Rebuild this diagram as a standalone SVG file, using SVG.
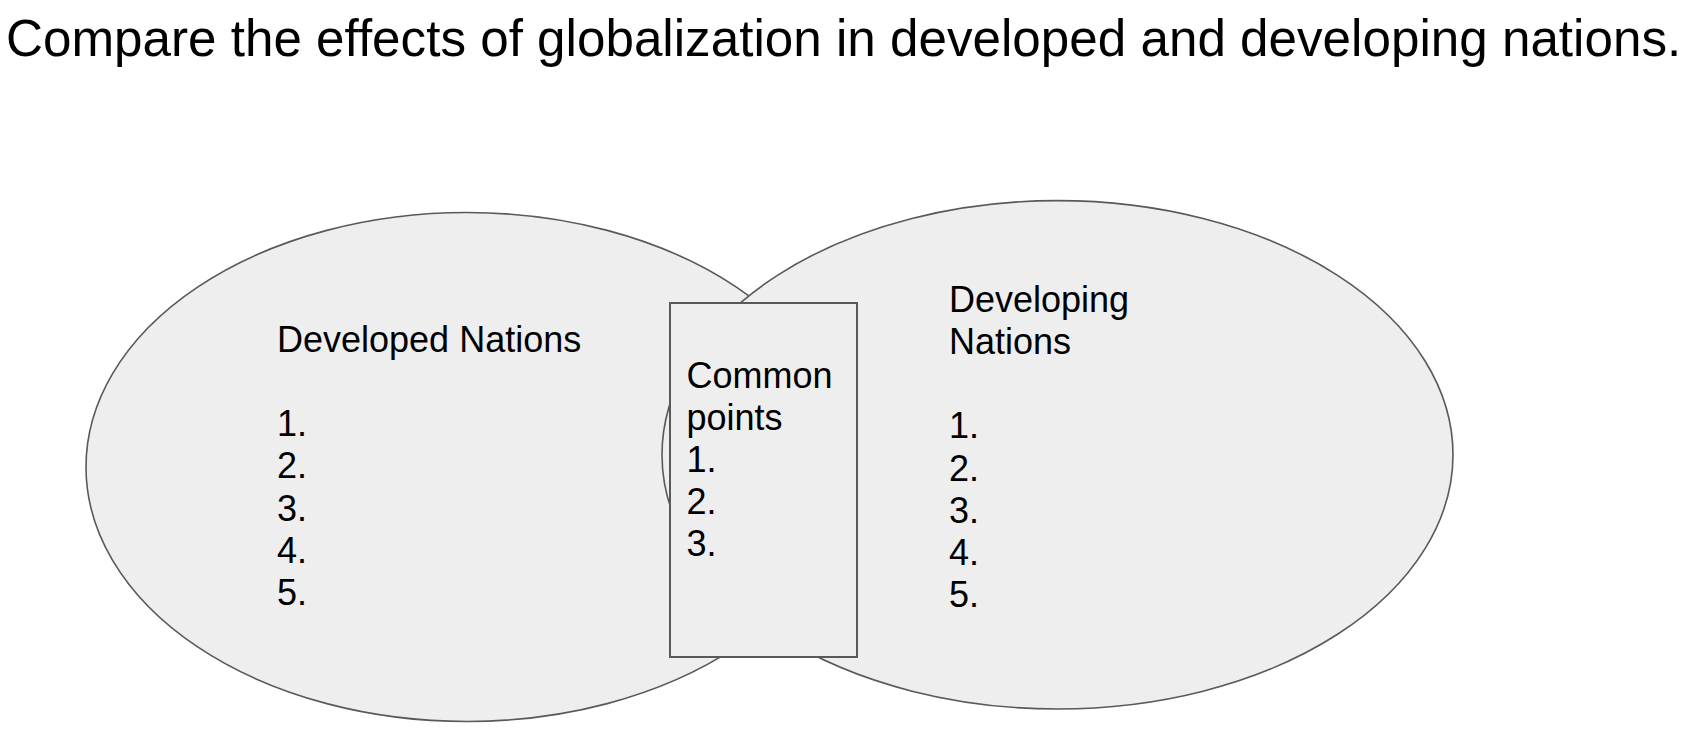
<svg xmlns="http://www.w3.org/2000/svg" width="1693" height="735" viewBox="0 0 1693 735">
  <style>
    .shape { fill: #eeeeee; stroke: #595959; }
    .ell { stroke-width: 1.6; }
    .box { stroke-width: 2; }
    text { font-family: "Liberation Sans", Arial, sans-serif; fill: #000000; }
    .lbl { font-size: 36px; }
    .title { font-size: 51.2px; }
  </style>
  <rect width="1693" height="735" fill="#ffffff"/>
  <g id="title">
    <text class="title" x="6" y="56">Compare the effects of globalization in developed and developing nations.</text>
  </g>
  <g id="developed">
    <ellipse class="shape ell" cx="467" cy="467" rx="381" ry="254.5"/>
    <text class="lbl" x="277" y="352">Developed Nations</text>
    <text class="lbl" x="277" y="436">1.</text>
    <text class="lbl" x="277" y="478.3">2.</text>
    <text class="lbl" x="277" y="520.5">3.</text>
    <text class="lbl" x="277" y="562.7">4.</text>
    <text class="lbl" x="277" y="605">5.</text>
  </g>
  <g id="developing">
    <ellipse class="shape ell" cx="1057.5" cy="454.8" rx="395.5" ry="254.2"/>
    <text class="lbl" x="949" y="311.7">Developing</text>
    <text class="lbl" x="949" y="354">Nations</text>
    <text class="lbl" x="949" y="438.3">1.</text>
    <text class="lbl" x="949" y="480.5">2.</text>
    <text class="lbl" x="949" y="522.7">3.</text>
    <text class="lbl" x="949" y="564.9">4.</text>
    <text class="lbl" x="949" y="607">5.</text>
  </g>
  <g id="common">
    <rect class="shape box" x="670" y="303" width="187" height="354"/>
    <text class="lbl" x="686.5" y="387.5">Common</text>
    <text class="lbl" x="686.5" y="429.5">points</text>
    <text class="lbl" x="686.5" y="471.7">1.</text>
    <text class="lbl" x="686.5" y="513.9">2.</text>
    <text class="lbl" x="686.5" y="556">3.</text>
  </g>
  <g id="connectors"></g>
</svg>
